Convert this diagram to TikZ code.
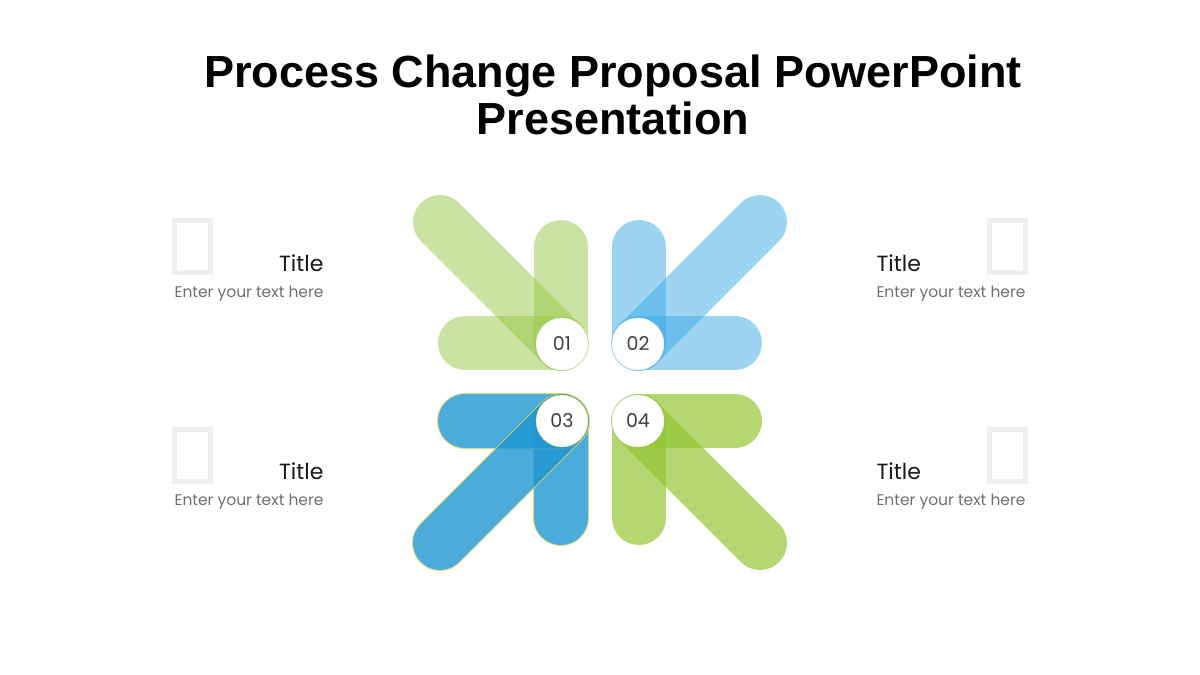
\documentclass[tikz,border=0pt]{standalone}
\usepackage{fontspec}
\setmainfont{Liberation Sans}
\newfontfamily\poppins{Poppins}
\usetikzlibrary{arrows}
\definecolor{sprout}{RGB}{150, 200, 70}
\definecolor{skyblue}{RGB}{60, 170, 230}
\definecolor{ocean}{RGB}{30, 150, 210}
\definecolor{lime}{RGB}{148, 198, 52}
\definecolor{citron}{RGB}{222, 214, 90}
\definecolor{mist}{RGB}{236, 240, 240}
\definecolor{slate}{RGB}{110, 110, 110}

\begin{document}
\begin{tikzpicture}[x=1pt, y=-1pt,
    bar/.style={line width=54pt, line cap=round},
    badge/.style={circle, fill=white, draw=black!8, minimum size=52pt, inner sep=0pt,
                  font=\poppins\fontsize{19}{19}\selectfont, text=black!75},
    heading/.style={font=\bfseries\fontsize{45}{45}\selectfont, anchor=base},
    itemtitle/.style={font=\poppins\fontsize{22}{22}\selectfont, text=black!90},
    itemtext/.style={font=\poppins\fontsize{15.5}{15.5}\selectfont, text=slate},
    iconbox/.style={draw=mist, line width=5pt}]
            \useasboundingbox (0,0) rectangle (1200,675);
            % heading
            \node[heading] (head1) at (613, 87) {Process Change Proposal PowerPoint};
            \node[heading] (head2) at (613,134) {Presentation};
            % 01
            \draw[bar, sprout, opacity=0.5] (561,247) -- (561,344);
            \draw[bar, sprout, opacity=0.5] (465,343) -- (561,343);
            \draw[bar, sprout, opacity=0.5] (440,222) -- (562,344);
            % 02
            \draw[bar, skyblue, opacity=0.5] (639,247) -- (639,344);
            \draw[bar, skyblue, opacity=0.5] (735,343) -- (639,343);
            \draw[bar, skyblue, opacity=0.5] (760,222) -- (638,344);
            % 03
            \begin{scope}[transparency group, opacity=0.8]
              \draw[bar, citron, line width=56pt] (561,518) -- (561,421);
              \draw[bar, ocean] (561,518) -- (561,421);
            \end{scope}
            \begin{scope}[transparency group, opacity=0.8]
              \draw[bar, citron, line width=56pt] (465,421) -- (561,421);
              \draw[bar, ocean] (465,421) -- (561,421);
            \end{scope}
            \begin{scope}[transparency group, opacity=0.8]
              \draw[bar, citron, line width=56pt] (440,543) -- (562,421);
              \draw[bar, ocean] (440,543) -- (562,421);
            \end{scope}
            % 04
            \draw[bar, lime, opacity=0.7] (639,518) -- (639,421);
            \draw[bar, lime, opacity=0.7] (735,421) -- (639,421);
            \draw[bar, lime, opacity=0.7] (760,543) -- (638,421);
            % badges
            \node[badge] (n1) at (562,344) {01};
            \node[badge] (n2) at (638,344) {02};
            \node[badge, draw=citron] (n3) at (562,421) {03};
            \node[badge] (n4) at (638,421) {04};
            % icon boxes
            \draw[iconbox] (174.5,220.5) rectangle (210.5,272.5);
            \draw[iconbox] (989.5,220.5) rectangle (1025.5,272.5);
            \draw[iconbox] (174.5,429.5) rectangle (210.5,481.5);
            \draw[iconbox] (989.5,429.5) rectangle (1025.5,481.5);
            % texts
            \node[itemtitle, anchor=base east] (t1) at (327,271) {Title};
            \node[itemtext,  anchor=base east] (d1) at (327,297) {Enter your text here};
            \node[itemtitle, anchor=base west] (t2) at (873,271) {Title};
            \node[itemtext,  anchor=base west] (d2) at (873,297) {Enter your text here};
            \node[itemtitle, anchor=base east] (t3) at (327,479) {Title};
            \node[itemtext,  anchor=base east] (d3) at (327,505) {Enter your text here};
            \node[itemtitle, anchor=base west] (t4) at (873,479) {Title};
            \node[itemtext,  anchor=base west] (d4) at (873,505) {Enter your text here};
\end{tikzpicture}
\end{document}
